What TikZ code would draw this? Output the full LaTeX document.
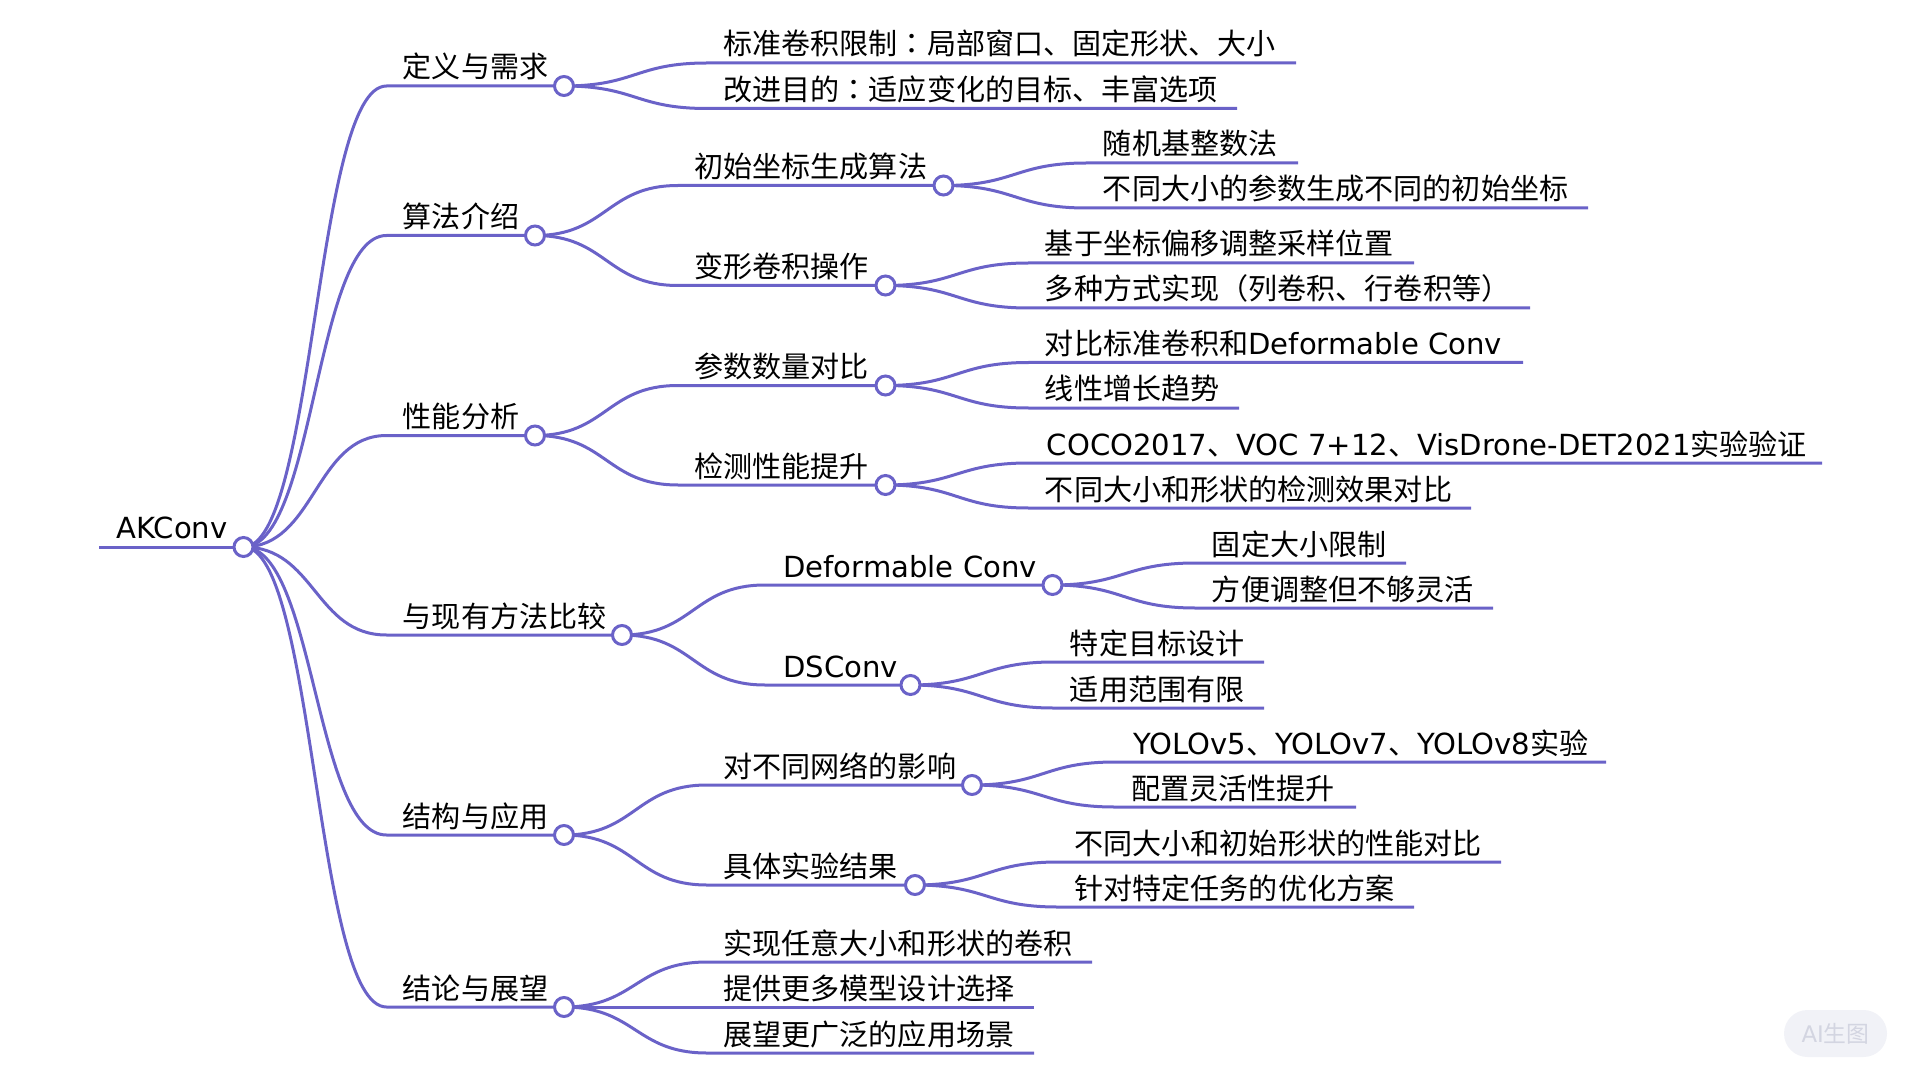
\documentclass[tikz,border=0pt]{standalone}
\usepackage{fontspec}
\setmainfont[Scale=1.01]{DejaVu Sans}
\newfontfamily\cjk[Scale=1.01]{Noto Sans CJK SC}
\newfontfamily\cjktc[Scale=1.01]{Noto Sans CJK TC}
\newcommand{\zh}[1]{{\cjk #1}}
\newcommand{\colonzh}{{\cjktc ：}}
\usetikzlibrary{calc,backgrounds}
\definecolor{linkcol}{HTML}{6A62C8}
\definecolor{markbg}{HTML}{F1F2F7}
\definecolor{marktext}{HTML}{D3D5E1}
\tikzset{
  link/.style={draw=linkcol,line width=1.5pt},
  branch/.style={to path={let \p1=(\tikztostart),\p2=(\tikztotarget) in .. controls ({0.5*(\x1+\x2)},\y1) and ({0.5*(\x1+\x2)},\y2) .. (\tikztotarget)}},
  dot/.style={circle,draw=linkcol,fill=white,line width=1.5pt,minimum size=9.5pt,inner sep=0pt},
  lbl/.style={anchor=base west,inner sep=0pt,font=\fontsize{14.4}{17}\selectfont,text=black}
}
\begin{document}
\begin{tikzpicture}[x=0.5pt,y=-0.5pt]
\useasboundingbox (0,0) rectangle (1920,1080);
% root
\node[dot] (root) at (243.5,547) {};
\coordinate (rootS) at (99,547);
\node[lbl] (rootT) at (116,538) {AKConv};
\begin{pgfonlayer}{background}
  \draw[link] (rootS) -- (root.center);
\end{pgfonlayer}
% branches with a circle
\foreach \nm/\up/\cx/\ly/\txt in {
  def/root/564/86/{\zh{定义与需求}},
  alg/root/535/235.5/{\zh{算法介绍}},
  perf/root/535/435.5/{\zh{性能分析}},
  cmp/root/622/635/{\zh{与现有方法比较}},
  app/root/564/835/{\zh{结构与应用}},
  end/root/564/1007/{\zh{结论与展望}},
  init/alg/943.5/185.5/{\zh{初始坐标生成算法}},
  deform/alg/885.5/285.5/{\zh{变形卷积操作}},
  param/perf/885.5/385.5/{\zh{参数数量对比}},
  detect/perf/885.5/485/{\zh{检测性能提升}},
  dcn/cmp/1052.5/585/{\kern1pt Deformable Conv},
  ds/cmp/910.5/685/{\kern1pt DSConv},
  net/app/972/785/{\zh{对不同网络的影响}},
  result/app/915/885/{\zh{具体实验结果}}%
} {
  \node[dot] (\nm) at (\cx,\ly) {};
  \coordinate (\nm X) at ($(\up.center)+(143,0)$);
  \coordinate (\nm S) at (\nm X |- \nm.center);
  \node[lbl] (\nm T) at ($(\nm S)+(16,-8)$) {\txt};
  \begin{pgfonlayer}{background}
    \draw[link] (\up.center) to[branch] (\nm S) -- (\nm.center);
  \end{pgfonlayer}
}
% leaves
\foreach \nm/\up/\ex/\ly/\txt in {
  def1/def/1296/63/{\zh{标准卷积限制}\colonzh\zh{局部窗口、固定形状、大小}},
  def2/def/1237/108.5/{\zh{改进目的}\colonzh\zh{适应变化的目标、丰富选项}},
  init1/init/1298/163/{\zh{随机基整数法}},
  init2/init/1588/208/{\zh{不同大小的参数生成不同的初始坐标}},
  deform1/deform/1414/263/{\zh{基于坐标偏移调整采样位置}},
  deform2/deform/1530/308/{\zh{多种方式实现（列卷积、行卷积等）}},
  param1/param/1523/362.5/{\zh{对比标准卷积和}Deformable Conv},
  param2/param/1239/408/{\zh{线性增长趋势}},
  detect1/detect/1822/463/{\kern1pt COCO2017\zh{、}VOC 7+12\zh{、}VisDrone-DET2021\zh{实验验证}},
  detect2/detect/1471/508/{\zh{不同大小和形状的检测效果对比}},
  dcn1/dcn/1406/563/{\zh{固定大小限制}},
  dcn2/dcn/1493/608/{\zh{方便调整但不够灵活}},
  ds1/ds/1264/662/{\zh{特定目标设计}},
  ds2/ds/1264/708/{\zh{适用范围有限}},
  net1/net/1606/762/{\kern1pt YOLOv5\zh{、}YOLOv7\zh{、}YOLOv8\zh{实验}},
  net2/net/1356/807/{\zh{配置灵活性提升}},
  result1/result/1501/862/{\zh{不同大小和初始形状的性能对比}},
  result2/result/1414/907/{\zh{针对特定任务的优化方案}},
  end1/end/1092/962/{\zh{实现任意大小和形状的卷积}},
  end2/end/1034/1007/{\zh{提供更多模型设计选择}},
  end3/end/1034/1053/{\zh{展望更广泛的应用场景}}%
} {
  \coordinate (\nm E) at (\ex,\ly);
  \coordinate (\nm X) at ($(\up.center)+(143,0)$);
  \coordinate (\nm S) at (\nm X |- \nm E);
  \node[lbl] (\nm T) at ($(\nm S)+(16,-8)$) {\txt};
  \begin{pgfonlayer}{background}
    \draw[link] (\up.center) to[branch] (\nm S) -- (\nm E);
  \end{pgfonlayer}
}
% watermark
\node[rounded corners=11.7pt,fill=markbg,text=marktext,font=\fontsize{11.3}{14}\selectfont,minimum width=51.5pt,minimum height=23.5pt,inner sep=0pt] (mark) at (1835.5,1033.5) {AI\zh{生图}};
\end{tikzpicture}
\end{document}
